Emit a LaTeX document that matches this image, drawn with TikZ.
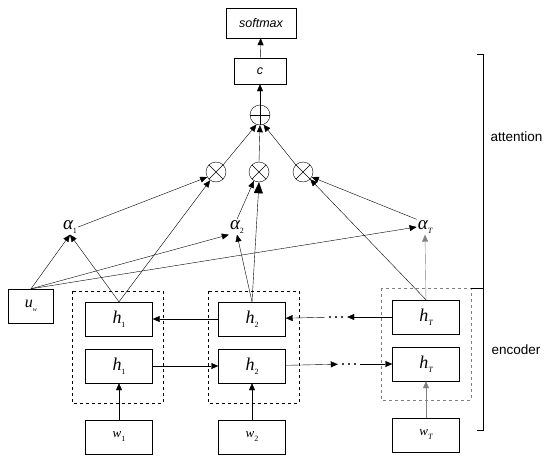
\documentclass[tikz,border=0pt]{standalone}
\usepackage{fontspec}
\setmainfont{Liberation Serif}
\setsansfont{Liberation Sans}
\usetikzlibrary{arrows.meta}
\tikzset{>={Triangle[length=7pt,width=6pt]},line width=0.6pt}
\tikzset{cell/.style={draw,minimum width=67pt,minimum height=34pt,inner sep=0pt}}
\tikzset{top box/.style={draw,inner sep=0pt,font=\fontsize{12.5}{14}\selectfont\sffamily\itshape}}
\tikzset{weight/.style={inner sep=1pt}}
\tikzset{dotsnode/.style={minimum width=22pt,minimum height=4pt,inner sep=0pt}}
\tikzset{group/.style={draw,dashed,line width=0.5pt}}
\tikzset{side label/.style={anchor=west,font=\fontsize{13.5}{15}\selectfont\sffamily}}
\tikzset{thin line/.style={line width=0.4pt}}
\tikzset{big head/.style={-{Triangle[length=11pt,width=9pt]}}}
\tikzset{mult/.style={draw,circle,minimum size=20pt,inner sep=0pt,
    path picture={\draw (path picture bounding box.north west) -- (path picture bounding box.south east)
                        (path picture bounding box.north east) -- (path picture bounding box.south west);}}}
\tikzset{plus/.style={draw,circle,minimum size=20pt,inner sep=0pt,
    path picture={\draw (path picture bounding box.north) -- (path picture bounding box.south)
                        (path picture bounding box.west) -- (path picture bounding box.east);}}}

\newcommand{\hvec}[1]{{\fontsize{18}{18}\selectfont\itshape h}\raisebox{-4pt}{\fontsize{8}{8}\selectfont #1}}
\newcommand{\wvec}[1]{{\fontsize{13}{13}\selectfont\itshape w}\raisebox{-4pt}{\fontsize{8}{8}\selectfont #1}}
\newcommand{\avec}[1]{{\fontsize{19}{19}\selectfont\itshape α}\raisebox{-4pt}{\fontsize{8}{8}\selectfont #1}}

\begin{document}
\begin{tikzpicture}[x=1pt,y=-1pt]
    \useasboundingbox (0,0) rectangle (550,464);

    % encoder
    \node[cell] (h1b) at (119,319) {\hvec{1}};
    \node[cell] (h1f) at (119,366) {\hvec{1}};
    \node[cell] (w1)  at (119,437) {\wvec{1}};
    \node[cell] (h2b) at (252,319) {\hvec{2}};
    \node[cell] (h2f) at (252,366) {\hvec{2}};
    \node[cell] (w2)  at (252,437) {\wvec{2}};
    \node[cell] (hTb) at (426,317) {\hvec{\itshape T}};
    \node[cell] (hTf) at (426,364) {\hvec{\itshape T}};
    \node[cell] (wT)  at (426,435) {\wvec{\itshape T}};
    \node[dotsnode] (dotsb) at (336,317) {};
    \node[dotsnode] (dotsf) at (349,364) {};
    \foreach \k in {-6,0,6} {
        \fill ([xshift=\k pt]dotsb.center) circle (1.1pt);
        \fill ([xshift=\k pt]dotsf.center) circle (1.1pt);
    }
    \node[draw,minimum width=45pt,minimum height=34pt,inner sep=0pt] (uw) at (31,306)
        {{\fontsize{16}{16}\selectfont\itshape u}\raisebox{-4pt}{\fontsize{6}{6}\selectfont\itshape w}};

    \draw[group] (72,291) rectangle (163,403);
    \draw[group] (208,291) rectangle (299,403);
    \draw[group,gray] (381,288) rectangle (471,400);

    % attention
    \node[weight] (al1) at (70,227) {\avec{1}};
    \node[weight] (al2) at (237,227) {\avec{2}};
    \node[weight] (alT) at (425,227) {\avec{\itshape T}};
    \node[mult] (otL) at (216,172) {};
    \node[mult] (otM) at (259,172) {};
    \node[mult] (otR) at (303,172) {};
    \node[plus] (opl) at (260,115) {};
    \node[top box,minimum width=52pt,minimum height=26pt] (ctx) at (260,71) {c};
    \node[top box,minimum width=70pt,minimum height=30pt] (soft) at (261,23) {softmax};

    \path[->]
        (w1) edge (h1f)
        (w2) edge (h2f)
        (wT) edge[gray] (hTf)
        (h1f) edge (h2f)
        (h2f) edge (dotsf)
        (dotsf) edge (hTf)
        (hTb) edge (dotsb)
        (dotsb) edge (h2b)
        (h2b) edge (h1b)
    ;
    \path[->]
        (uw.north) edge (al1.south)
        (uw.north) edge[thin line] (al2.south west)
        (uw.north) edge[thin line] (alT.west)
        (h1b.north) edge (al1.south)
        (h2b.north) edge (al2.south)
        (hTb.north) edge[gray] (alT.south)
        (h1b.north) edge (otL.235)
        (h2b.north) edge[big head] (otM.south)
        (hTb.north) edge (otR.-45)
        (al1.east) edge[thin line] (otL.210)
        (al2.north) edge[thin line] (otM.240)
        (alT.north west) edge[thin line] (otR.-30)
        (otL.45) edge (opl.250)
        (otM.north) edge (opl.south)
        (otR.135) edge (opl.290)
        (opl) edge (ctx)
        (ctx) edge (soft)
    ;

    % brackets
    \draw[line width=0.5pt] (477,54) -- (483,54) -- (483,430) -- (477,430);
    \draw[line width=0.5pt] (471,288) -- (483,288);
    \node[side label] (att) at (487,137) {attention};
    \node[side label] (enc) at (488,350) {encoder};
\end{tikzpicture}
\end{document}
